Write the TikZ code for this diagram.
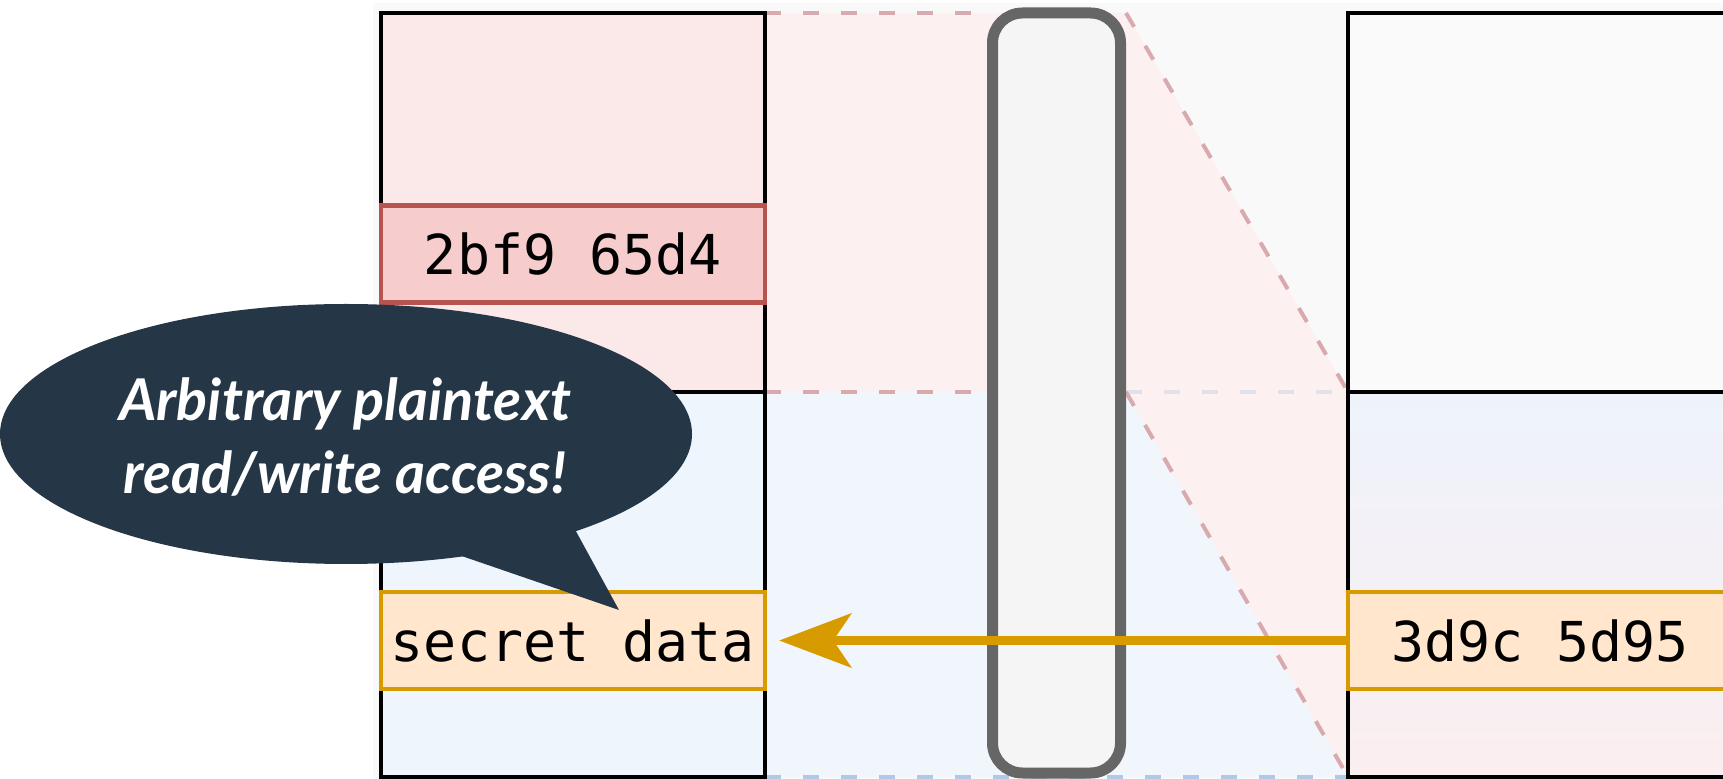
\documentclass[tikz,border=0pt]{standalone}
\usepackage{fontspec}
\newfontfamily\monofont{DejaVu Sans Mono}
\newfontfamily\latofont{Lato}
\usetikzlibrary{arrows.meta,shapes.geometric}
\definecolor{bggray}{HTML}{F9F9F9}
\definecolor{pinkA}{HTML}{FBE9E9}
\definecolor{blueA}{HTML}{EEF5FD}
\definecolor{pinkB}{HTML}{FCF0F0}
\definecolor{blueB}{HTML}{F1F6FD}
\definecolor{redfill}{HTML}{F6CDCC}
\definecolor{redline}{HTML}{B85450}
\definecolor{orfill}{HTML}{FFE6CC}
\definecolor{orline}{HTML}{D79B00}
\definecolor{pillfill}{HTML}{F5F5F5}
\definecolor{pillline}{HTML}{666666}
\definecolor{dashpink}{HTML}{D9AAAD}
\definecolor{dashblue}{HTML}{B3C8E4}
\definecolor{dashfaint}{HTML}{E2E0E8}
\definecolor{bubblecol}{HTML}{253746}
\definecolor{rtop}{HTML}{FAFAFA}
\definecolor{rbotA}{HTML}{EEF3FB}
\definecolor{rbotB}{HTML}{FBEEF0}
\tikzset{
  half/.style={draw=black, line width=2.4pt, minimum width=192pt, inner sep=0pt},
  blk/.style={line width=2.2pt, minimum width=192pt, minimum height=48.5pt, inner sep=0pt,
    font=\monofont\fontsize{27.5pt}{32pt}\selectfont},
  dsh/.style={line width=2pt, dash pattern=on 8pt off 11pt},
}
\begin{document}
\begin{tikzpicture}[x=0.5pt,y=-0.5pt]
\useasboundingbox (0,0) rectangle (1723,779);
\fill[bggray] (373,3) rectangle (1723,779);
% projection regions
\fill[blueB] (765,392) rectangle (1348,777);
\fill[pinkB] (765,13) -- (1126,13) -- (1348,392) -- (1348,777) -- (1126,392) -- (765,392) -- cycle;
\draw[dsh, dashpink] (765,13) -- (990,13);
\draw[dsh, dashpink] (765,392) -- (990,392);
\draw[dsh, dashfaint] (1126,392) -- (1348,392);
\draw[dsh, dashblue] (765,777) -- (1348,777);
\draw[dsh, dashpink] (1126,13) -- (1348,392);
\draw[dsh, dashpink] (1126,392) -- (1348,777);
% pillar
\node[draw=pillline, fill=pillfill, line width=5.5pt, rounded corners=15pt,
  minimum width=64pt, minimum height=380pt, inner sep=0pt] (pillar) at (1056.5,393) {};
% left box
\node[half, fill=pinkA, minimum height=189.5pt] (ltop) at (573,202.5) {};
\node[half, fill=blueA, minimum height=192.5pt] (lbot) at (573,584.5) {};
\node[blk, draw=redline, fill=redfill] (key) at (573,254) {2bf9 65d4};
\node[blk, draw=orline, fill=orfill] (secret) at (573,640.5) {secret data};
% right box
\node[half, fill=rtop, minimum height=189.5pt] (rtopn) at (1540,202.5) {};
\node[half, top color=rbotA, bottom color=rbotB, minimum height=192.5pt] (rbot) at (1540,584.5) {};
\node[blk, draw=orline, fill=orfill] (cipher) at (1540,640.5) {3d9c 5d95};
% arrow
\draw[orline, line width=4.2pt, -{Stealth[length=36pt,width=27pt,inset=9pt]}]
  (cipher.west) -- ([xshift=6pt]secret.east);
% speech bubble
\node[ellipse, fill=bubblecol, minimum width=346pt, minimum height=130pt, inner sep=0pt] (bub) at (346,434) {};
\coordinate (tip) at (619,610);
\fill[bubblecol] (450,552) -- (tip) -- (572,524) -- cycle;
\node[text=white, align=center, font=\latofont\bfseries\itshape\fontsize{28.8pt}{36.5pt}\selectfont]
  (msg) at (345,437) {Arbitrary plaintext\\read/write access!};
\end{tikzpicture}
\end{document}
